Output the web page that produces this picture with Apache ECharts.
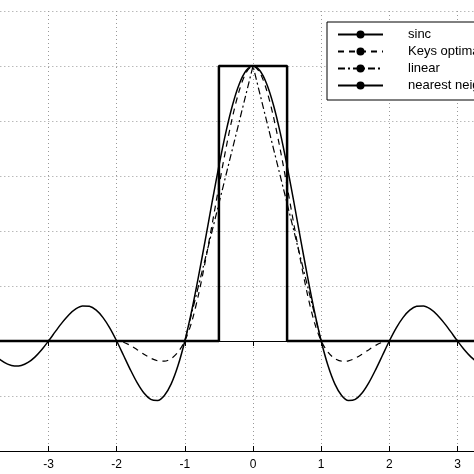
<!DOCTYPE html>
<html><head><meta charset="utf-8">
<script src="https://cdn.jsdelivr.net/npm/echarts@6/dist/echarts.min.js"></script>
<style>html,body{margin:0;padding:0;background:#fff;overflow:hidden;width:474px;height:474px}#c{position:absolute;left:-28px;top:0;width:560px;height:474px}</style>
</head><body><div id="c"></div>
<script>
// half-range samples x = 0,0.1,...,4 (mirrored for negative x)
const xHalf = [0,0.1,0.2,0.3,0.4,0.5,0.6,0.7,0.8,0.9,1,1.1,1.2,1.3,1.4,1.5,1.6,1.7,1.8,1.9,2,2.1,2.2,2.3,2.4,2.5,2.6,2.7,2.8,2.9,3,3.1,3.2,3.3,3.4,3.5,3.6,3.7,3.8,3.9,4];
const sincHalf = [1,0.9836,0.9355,0.8584,0.7568,0.6366,0.5046,0.3679,0.2339,0.1093,0,-0.0894,-0.1559,-0.1981,-0.2162,-0.2122,-0.1892,-0.1515,-0.1039,-0.0518,0,0.0468,0.0850,0.1120,0.1261,0.1273,0.1164,0.0954,0.0668,0.0339,0,-0.0317,-0.0585,-0.0780,-0.0890,-0.0909,-0.0841,-0.0696,-0.0492,-0.0252,0];
const keysHalf = [1,0.9765,0.912,0.8155,0.696,0.5625,0.424,0.2895,0.168,0.0685,0,-0.0405,-0.064,-0.0735,-0.072,-0.0625,-0.048,-0.0315,-0.016,-0.0045,0,0,0,0,0,0,0,0,0,0,0,0,0,0,0,0,0,0,0,0,0];
const linearX = [-4,-1,0,1,4];
const linearY = [0,0,1,0,0];
const nearestX = [-4,-0.5,-0.5,0.5,0.5,4];
const nearestY = [0,0,1,1,0,0];
const names = ['sinc','Keys optimal cubic','linear','nearest neighbor'];

function mirror(xs, ys){
  const out=[];
  for(let i=xs.length-1;i>0;i--) out.push([-xs[i], ys[i]]);
  for(let i=0;i<xs.length;i++) out.push([xs[i], ys[i]]);
  return out;
}
const pairs=(xs,ys)=>xs.map((x,i)=>[x,ys[i]]);
const font='Liberation Sans';
const chart=echarts.init(document.getElementById('c'));
const base={type:'line',showSymbol:false,symbol:'none',animation:false};
chart.setOption({
  animation:false,
  grid:{left:0,right:0,top:11,bottom:23,show:false},
  legend:{orient:'vertical',left:355,top:22,backgroundColor:'#fff',borderColor:'#000',borderWidth:1,
    padding:[6,60,8,10],itemWidth:45,itemHeight:10,itemGap:4,
    textStyle:{fontFamily:font,fontSize:13,color:'#000',padding:[0,0,0,20]},
    data:names},
  xAxis:[{type:'value',min:-4,max:4,interval:1,
    axisLine:{onZero:false,lineStyle:{color:'#000',width:1}},
    axisTick:{inside:true,length:5,lineStyle:{color:'#000'}},
    axisLabel:{color:'#000',fontFamily:font,fontSize:12,margin:8},
    splitLine:{show:true,lineStyle:{color:'#999',type:[1,3]}}},
   {type:'value',position:'top',min:-4,max:4,interval:1,
    axisLine:{lineStyle:{color:'#000'}},axisTick:{inside:true,length:5,lineStyle:{color:'#000'}},
    axisLabel:{show:false},splitLine:{show:false}}],
  yAxis:{type:'value',min:-0.4,max:1.2,interval:0.2,
    axisLine:{show:false},axisTick:{show:false},axisLabel:{show:false},
    splitLine:{show:true,lineStyle:{color:'#999',type:[1,3]}}},
  series:[
    Object.assign({},base,{name:names[0],smooth:0.3,data:mirror(xHalf,sincHalf),lineStyle:{color:'#000',width:1.5},itemStyle:{color:'#000'}}),
    Object.assign({},base,{name:names[1],smooth:0.3,data:mirror(xHalf,keysHalf),lineStyle:{color:'#000',width:1.2,type:[6,5]},itemStyle:{color:'#000'}}),
    Object.assign({},base,{name:names[2],data:pairs(linearX,linearY),lineStyle:{color:'#000',width:1.2,type:[7,3,2,3]},itemStyle:{color:'#000'}}),
    Object.assign({},base,{name:names[3],data:pairs(nearestX,nearestY),lineStyle:{color:'#000',width:2.5},itemStyle:{color:'#000'}})
  ]
});
</script></body></html>
